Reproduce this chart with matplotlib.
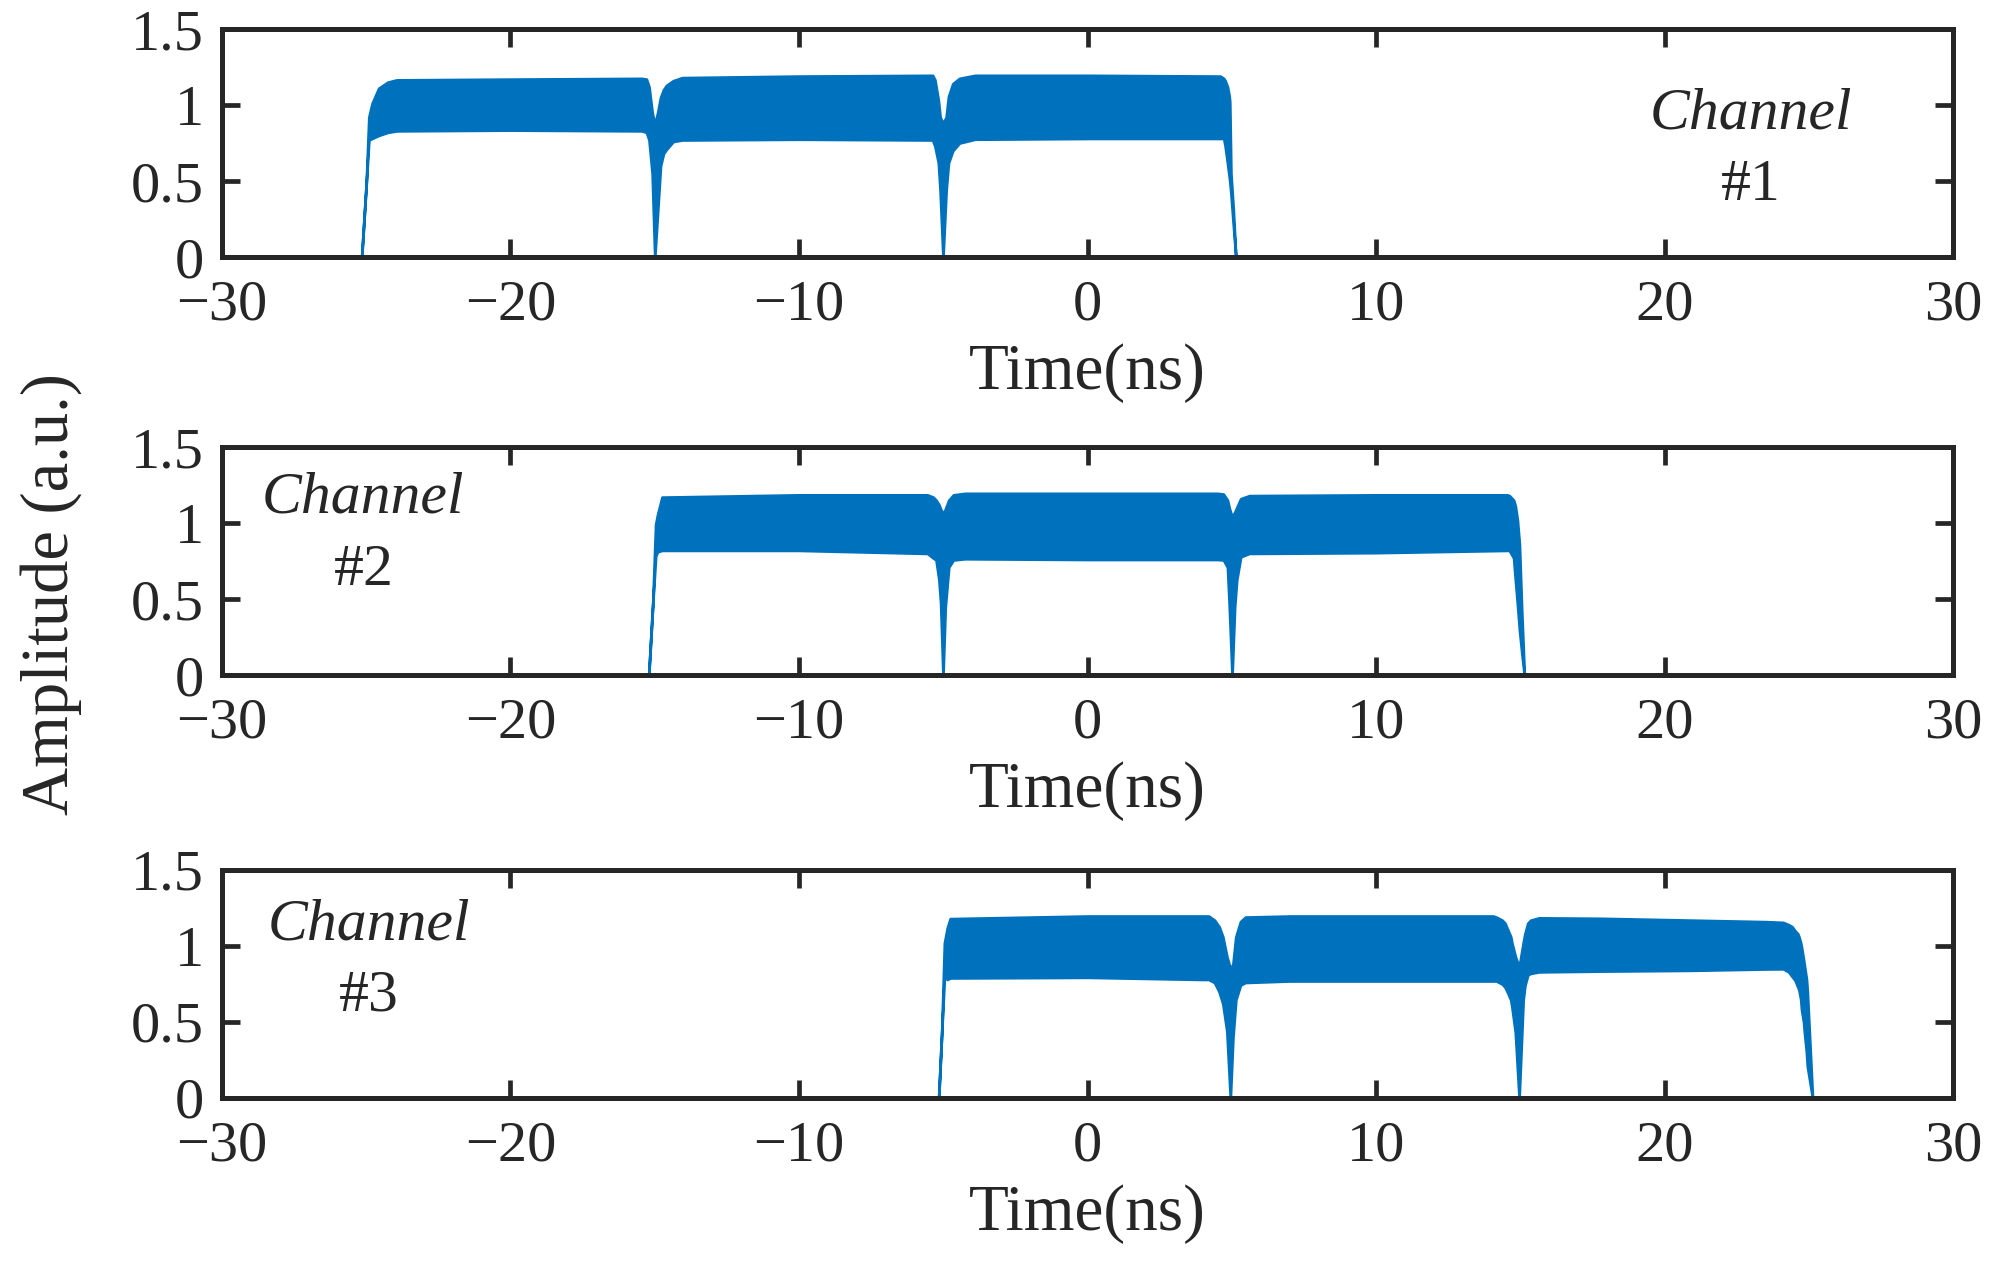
import matplotlib
matplotlib.use("Agg")
import matplotlib.pyplot as plt

# ---------------- data ----------------
x_ticks = [-30, -20, -10, 0, 10, 20, 30]
y_ticks = [0, 0.5, 1, 1.5]
y_tick_labels = ["0", "0.5", "1", "1.5"]
x_label = "Time(ns)"
y_label = "Amplitude (a.u.)"
channel_names = ["#1", "#2", "#3"]
channel_text_x = [23.0, -25.1, -24.9]
channel_text_y1 = [0.847, 1.068, 1.044]   # baseline of "Channel"
channel_text_y2 = [0.375, 0.592, 0.574]   # baseline of "#n"

# envelopes of the fast-oscillating pulse trains (upper / lower)
ch1_t = [-25.16, -25.0, -24.91, -24.80, -24.57, -24.26, -23.95, -20.0, -15.45, -15.29,
         -15.20, -15.09, -15.0, -14.90, -14.80, -14.70, -14.59, -14.36, -14.05, -10.0,
         -5.37, -5.29, -5.17, -5.11, -5.01, -4.90, -4.82, -4.67, -4.44, -3.90,
         0.0, 4.60, 4.72, 4.77, 4.85, 4.91, 4.93, 4.97, 5.05, 5.14]
ch1_upper = [0.0, 0.49, 0.92, 1.01, 1.11, 1.15, 1.165, 1.17, 1.175, 1.17,
             1.12, 0.95, 0.87, 0.95, 1.05, 1.10, 1.13, 1.16, 1.18, 1.19,
             1.195, 1.165, 1.03, 0.92, 0.88, 0.92, 1.055, 1.14, 1.175, 1.195,
             1.195, 1.19, 1.175, 1.16, 1.12, 1.06, 1.02, 0.55, 0.32, 0.0]
ch1_lower = [0.0, 0.49, 0.77, 0.78, 0.80, 0.82, 0.83, 0.835, 0.83, 0.82,
             0.77, 0.55, 0.0, 0.30, 0.60, 0.68, 0.71, 0.76, 0.77, 0.775,
             0.77, 0.73, 0.62, 0.44, 0.0, 0.44, 0.62, 0.70, 0.75, 0.775,
             0.78, 0.78, 0.78, 0.73, 0.62, 0.53, 0.50, 0.42, 0.22, 0.0]

ch2_t = [-15.21, -15.07, -14.97, -14.91, -14.75, -10.0, -5.55, -5.35, -5.25, -5.15,
         -5.09, -5.01, -4.93, -4.81, -4.65, -4.25, 0.0, 4.50, 4.71, 4.85,
         4.91, 5.01, 5.10, 5.17, 5.31, 5.61, 10.0, 14.55, 14.62, 14.77,
         14.83, 14.90, 14.97, 15.05, 15.14]
ch2_upper = [0.0, 0.47, 0.99, 1.05, 1.17, 1.185, 1.185, 1.17, 1.15, 1.12,
             1.09, 1.06, 1.09, 1.15, 1.185, 1.195, 1.195, 1.195, 1.19, 1.15,
             1.10, 1.04, 1.07, 1.10, 1.16, 1.18, 1.185, 1.185, 1.18, 1.15,
             1.11, 1.02, 0.86, 0.42, 0.0]
ch2_lower = [0.0, 0.47, 0.78, 0.81, 0.82, 0.82, 0.80, 0.77, 0.757, 0.625,
             0.47, 0.0, 0.45, 0.71, 0.757, 0.765, 0.76, 0.76, 0.757, 0.71,
             0.47, 0.0, 0.45, 0.625, 0.778, 0.80, 0.805, 0.82, 0.82, 0.77,
             0.625, 0.47, 0.30, 0.15, 0.0]

ch3_t = [-5.16, -5.05, -4.96, -4.86, -4.76, 0.0, 4.0, 4.20, 4.40, 4.56,
         4.69, 4.83, 4.95, 5.04, 5.14, 5.30, 5.47, 7.0, 14.06, 14.17,
         14.37, 14.47, 14.57, 14.67, 14.71, 14.83, 14.96, 15.10, 15.16, 15.26,
         15.36, 15.65, 17.77, 20.90, 23.51, 24.11, 24.30, 24.42, 24.52, 24.62,
         24.66, 24.72, 24.75, 24.82, 24.85, 24.92, 24.95, 25.13]
ch3_upper = [0.0, 0.45, 1.02, 1.12, 1.18, 1.197, 1.197, 1.197, 1.17, 1.127,
             1.06, 0.93, 0.85, 0.88, 1.06, 1.16, 1.19, 1.197, 1.197, 1.19,
             1.17, 1.15, 1.105, 1.06, 1.02, 0.93, 0.86, 1.02, 1.08, 1.15,
             1.17, 1.185, 1.182, 1.17, 1.16, 1.155, 1.14, 1.127, 1.10, 1.08,
             1.06, 1.02, 0.99, 0.908, 0.87, 0.78, 0.70, 0.0]
ch3_lower = [0.0, 0.45, 0.80, 0.78, 0.79, 0.794, 0.78, 0.78, 0.76, 0.70,
             0.62, 0.44, 0.0, 0.40, 0.645, 0.743, 0.76, 0.77, 0.77, 0.77,
             0.75, 0.73, 0.69, 0.645, 0.60, 0.43, 0.0, 0.645, 0.74, 0.81,
             0.82, 0.83, 0.835, 0.84, 0.849, 0.85, 0.83, 0.80, 0.776, 0.73,
             0.71, 0.65, 0.58, 0.50, 0.43, 0.30, 0.21, 0.0]

times = [ch1_t, ch2_t, ch3_t]
uppers = [ch1_upper, ch2_upper, ch3_upper]
lowers = [ch1_lower, ch2_lower, ch3_lower]

# ---------------- style ----------------
BLUE = "#0072BD"
DARK = "#262626"
plt.rcParams["font.family"] = ["Liberation Serif", "DejaVu Serif"]

W, H = 1997, 1268
fig = plt.figure(figsize=(W / 100, H / 100), dpi=100)
fig.patch.set_facecolor("white")

left = 222 / W
width = (1953 - 222) / W
tops = [29, 447, 870]
bottoms = [257, 675, 1098]

for i in range(3):
    b = 1 - bottoms[i] / H
    h = (bottoms[i] - tops[i]) / H
    ax = fig.add_axes([left, b, width, h])
    ax.fill_between(times[i], lowers[i], uppers[i], facecolor=BLUE,
                    edgecolor=BLUE, linewidth=2.0)
    ax.set_xlim(-30, 30)
    ax.set_ylim(0, 1.5)
    ax.set_xticks(x_ticks)
    ax.set_yticks(y_ticks)
    ax.set_yticklabels(y_tick_labels)
    ax.tick_params(direction="in", length=13, width=3.4, colors=DARK,
                   labelsize=42, top=True, right=True)
    ax.tick_params(axis="x", pad=16.5)
    ax.tick_params(axis="y", pad=13)
    for s in ax.spines.values():
        s.set_linewidth(3.6)
        s.set_color(DARK)
    ax.set_xlabel(x_label, fontsize=47, color=DARK, labelpad=8.5)
    ax.text(channel_text_x[i], channel_text_y1[i], "Channel", fontsize=43,
            style="italic", color=DARK, ha="center", va="baseline")
    ax.text(channel_text_x[i], channel_text_y2[i], channel_names[i], fontsize=43,
            color=DARK, ha="center", va="baseline")

fig.text(51 / W, 1 - 594 / H, y_label, rotation=90, fontsize=48, color=DARK,
         ha="center", va="center")

fig.savefig("out.png", dpi=100, facecolor="white")
